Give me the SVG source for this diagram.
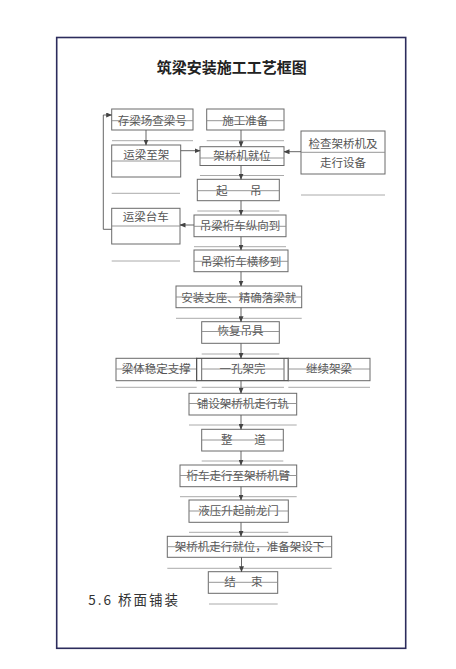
<svg xmlns="http://www.w3.org/2000/svg" width="456" height="669" viewBox="0 0 456 669">
<defs>
<marker id="ah" markerWidth="6" markerHeight="5" refX="5.5" refY="2.5" orient="auto" markerUnits="userSpaceOnUse">
<path d="M0,0 L6,2.5 L0,5 Z" fill="#444"/>
</marker>
<style>
.box{fill:#fff;stroke:#6a6a6a;stroke-width:1}
.st{stroke:#8a8a8a;stroke-width:0.9;fill:none}
.sep{stroke:#a0a0a0;stroke-width:0.9;fill:none}
.t{font-family:"Noto Sans CJK SC","Noto Sans CJK JP",sans-serif;font-size:11.5px;fill:#555;text-anchor:middle}
.c{stroke:#555;stroke-width:0.9;fill:none;marker-end:url(#ah)}
</style>
</defs>
<rect x="0" y="0" width="456" height="669" fill="#fff"/>
<rect x="56.7" y="37.5" width="349" height="610.8" fill="none" stroke="#2c2c5c" stroke-width="1.6"/>
<text x="231.7" y="73" font-family="'Noto Sans CJK SC',sans-serif" font-size="15" font-weight="bold" fill="#222" text-anchor="middle">筑梁安装施工工艺框图</text>

<g id="n1"><rect class="box" x="111.7" y="109" width="81.3" height="21"/><text class="t" x="152.3" y="125">存梁场查梁号</text><line class="st" x1="111.7" y1="120.7" x2="193" y2="120.7"/><line class="sep" x1="112" y1="140.7" x2="193" y2="140.7"/></g>
<g id="n2"><rect class="box" x="206.7" y="109" width="77.3" height="21"/><text class="t" x="245.3" y="125">施工准备</text><line class="st" x1="206.7" y1="120.7" x2="284" y2="120.7"/><line class="sep" x1="206.7" y1="140.7" x2="284" y2="140.7"/></g>
<g id="n3"><rect class="box" x="111.7" y="145" width="69" height="32"/><text class="t" x="146.2" y="159">运梁至架</text><line class="st" x1="111.7" y1="161" x2="180.7" y2="161"/><line class="sep" x1="111.7" y1="193.3" x2="180" y2="193.3"/></g>
<g id="n4"><rect class="box" x="200" y="146.7" width="84" height="18.8"/><text class="t" x="242" y="159.5">架桥机就位</text><line class="st" x1="200" y1="158" x2="284" y2="158"/><line class="sep" x1="200" y1="175.5" x2="284" y2="175.5"/></g>
<g id="n5"><rect class="box" x="301" y="131" width="84" height="43"/><text class="t" x="343" y="148">检查架桥机及</text><text class="t" x="343" y="167.3">走行设备</text><line class="st" x1="301" y1="152.3" x2="385" y2="152.3"/><line class="sep" x1="301" y1="195" x2="385" y2="195"/></g>
<g id="n6"><rect class="box" x="197.3" y="179.3" width="82" height="21.4"/><text class="t" y="194.7"><tspan x="221.7">起</tspan><tspan x="255.7">吊</tspan></text><line class="st" x1="197.3" y1="190.7" x2="279.3" y2="190.7"/><line class="sep" x1="197.3" y1="211" x2="279.3" y2="211"/></g>
<g id="n7"><rect class="box" x="111.7" y="208.3" width="68.3" height="35.7"/><text class="t" x="145.8" y="220.7">运梁台车</text><line class="st" x1="111.7" y1="226" x2="180" y2="226"/><line class="sep" x1="111.7" y1="261" x2="180" y2="261"/></g>
<g id="n8"><rect class="box" x="194" y="215" width="92" height="21.7"/><text class="t" x="240" y="230">吊梁桁车纵向到</text><line class="st" x1="194" y1="226.3" x2="286" y2="226.3"/><line class="sep" x1="194" y1="246.7" x2="286" y2="246.7"/></g>
<g id="n9"><rect class="box" x="194" y="250" width="94" height="21.7"/><text class="t" x="241" y="265.5">吊梁桁车横移到</text><line class="st" x1="194" y1="261.3" x2="288" y2="261.3"/></g>
<g id="n10"><rect class="box" x="176" y="286" width="125.7" height="21.7"/><text class="t" x="238.8" y="301.5">安装支座、精确落梁就</text><line class="st" x1="176" y1="297" x2="301.7" y2="297"/><line class="sep" x1="176" y1="318.3" x2="301.7" y2="318.3"/></g>
<g id="n11"><rect class="box" x="201.7" y="321.7" width="77.6" height="21.6"/><text class="t" x="240.5" y="335">恢复吊具</text><line class="st" x1="201.7" y1="331.5" x2="279.3" y2="331.5"/><line class="sep" x1="201.7" y1="354" x2="279.3" y2="354"/></g>
<g id="n12"><rect class="box" x="116" y="358.3" width="80.7" height="22.4"/><text class="t" x="156.3" y="373">梁体稳定支撑</text><line class="st" x1="116" y1="369" x2="196.7" y2="369"/><line class="sep" x1="116" y1="387.3" x2="196.7" y2="387.3"/></g>
<g id="n13"><rect x="196.7" y="358.3" width="91.6" height="22.4" fill="#fff" stroke="#444" stroke-width="1.1"/><line x1="201.7" y1="358.3" x2="201.7" y2="380.7" stroke="#555" stroke-width="0.9"/><line x1="284" y1="358.3" x2="284" y2="380.7" stroke="#555" stroke-width="0.9"/><text class="t" x="242.5" y="373">一孔架完</text><line class="st" x1="201.7" y1="369" x2="284" y2="369"/><line class="sep" x1="201.7" y1="387.3" x2="284" y2="387.3"/></g>
<g id="n14"><rect class="box" x="288.3" y="358.3" width="81.7" height="22.4"/><text class="t" x="329" y="373">继续架梁</text><line class="st" x1="288.3" y1="369" x2="370" y2="369"/><line class="sep" x1="288.3" y1="387.3" x2="370" y2="387.3"/></g>
<g id="n15"><rect class="box" x="189" y="393.3" width="107.7" height="21.7"/><text class="t" x="242.8" y="408">铺设架桥机走行轨</text><line class="st" x1="189" y1="403.5" x2="296.7" y2="403.5"/><line class="sep" x1="189" y1="425" x2="296.7" y2="425"/></g>
<g id="n16"><rect class="box" x="201.7" y="429.3" width="81.6" height="21.7"/><text class="t" y="444"><tspan x="226.7">整</tspan><tspan x="260">道</tspan></text><line class="st" x1="201.7" y1="440" x2="283.3" y2="440"/><line class="sep" x1="201.7" y1="461" x2="283.3" y2="461"/></g>
<g id="n17"><rect class="box" x="180" y="465" width="116.7" height="21.7"/><text class="t" x="238.3" y="479.5">桁车走行至架桥机臂</text><line class="st" x1="180" y1="475.5" x2="296.7" y2="475.5"/><line class="sep" x1="180" y1="496.7" x2="296.7" y2="496.7"/></g>
<g id="n18"><rect class="box" x="189" y="500" width="99.3" height="22.3"/><text class="t" x="238.6" y="515">液压升起前龙门</text><line class="st" x1="189" y1="511" x2="288.3" y2="511"/><line class="sep" x1="189" y1="532.3" x2="288.3" y2="532.3"/></g>
<g id="n19"><rect class="box" x="167.3" y="536.3" width="164.4" height="21"/><text class="t" x="249.5" y="550.5">架桥机走行就位，准备架设下</text><line class="st" x1="167.3" y1="546.7" x2="331.7" y2="546.7"/><line class="sep" x1="167.3" y1="568.3" x2="331.7" y2="568.3"/></g>
<g id="n20"><rect class="box" x="208.3" y="571.7" width="69.4" height="21.6"/><text class="t" y="586"><tspan x="230">结</tspan><tspan x="256.7">束</tspan></text><line class="st" x1="208.3" y1="582.3" x2="277.7" y2="582.3"/><line class="sep" x1="209" y1="604" x2="277.7" y2="604"/></g>

<g id="connectors">
<line class="c" x1="146" y1="130" x2="146" y2="145"/>
<line class="c" x1="241" y1="130" x2="241" y2="146.7"/>
<line class="c" x1="180.7" y1="150.7" x2="200" y2="150.7"/>
<line class="c" x1="301" y1="151.7" x2="284" y2="151.7"/>
<line class="c" x1="241" y1="165.5" x2="241" y2="179.3"/>
<line class="c" x1="241" y1="200.7" x2="241" y2="215"/>
<line class="c" x1="194" y1="225" x2="180" y2="225"/>
<polyline class="c" points="111.7,229.3 103.3,229.3 103.3,115 111.7,115"/>
<line class="c" x1="241" y1="236.7" x2="241" y2="250"/>
<line class="c" x1="241" y1="271.7" x2="241" y2="286"/>
<line class="c" x1="241" y1="307.7" x2="241" y2="321.7"/>
<line class="c" x1="241" y1="343.3" x2="241" y2="358.3"/>
<line class="c" x1="241" y1="380.7" x2="241" y2="393.3"/>
<line class="c" x1="241" y1="415" x2="241" y2="429.3"/>
<line class="c" x1="241" y1="451" x2="241" y2="465"/>
<line class="c" x1="241" y1="486.7" x2="241" y2="500"/>
<line class="c" x1="241" y1="522.3" x2="241" y2="536.3"/>
<line class="c" x1="241.5" y1="557.3" x2="241.5" y2="571.7"/>
</g>

<text x="88.3" y="605" font-family="'Noto Sans CJK SC',sans-serif" font-size="13.5" fill="#333" letter-spacing="2">5.6 桥面铺装</text>
</svg>
